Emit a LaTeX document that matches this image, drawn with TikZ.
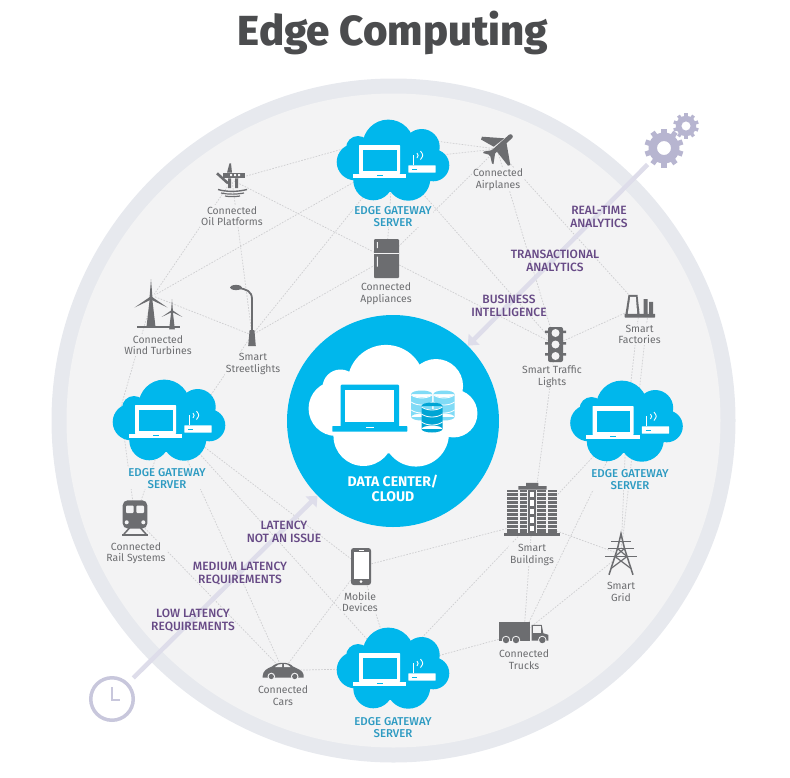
\documentclass[tikz,border=0pt]{standalone}
\usepackage{fontspec}
\setmainfont{Fira Sans}
\newfontfamily\trendfont{Fira Sans Medium}
\newfontfamily\titlefont{Fira Sans ExtraBold}
\usepackage{xcolor}
\usetikzlibrary{arrows.meta, positioning}

\definecolor{ringgray}{HTML}{E7E9EE}
\definecolor{innergray}{HTML}{F3F3F4}
\definecolor{skyblue}{HTML}{00B7EC}
\definecolor{iconsgray}{HTML}{6C6D70}
\definecolor{linkgray}{HTML}{CECED0}
\definecolor{gatewayblue}{HTML}{2E9BC2}
\definecolor{trendpurple}{HTML}{674A86}
\definecolor{arrowlilac}{HTML}{DEDDEA}
\definecolor{gearlilac}{HTML}{B7B5D0}
\definecolor{clocklilac}{HTML}{C8C7DC}

\newcommand{\cloudblob}{(-4.7,-14.7) circle (25.7) (-38,2) circle (18.3) (-35,-12) circle (12) (28.7,-13) circle (18) (40.3,5.3) circle (16) (-19.7,20.3) circle (20) (15.3,18.7) circle (22) (0,0) circle (32)}
\newcommand{\dbcyl}[3]{
  \fill[#3] (#1-10.5,#2) rectangle (#1+10.5,#2+23) (#1,#2) ellipse [x radius=10.5, y radius=3.5] (#1,#2+23) ellipse [x radius=10.5, y radius=3.5];
  \draw[white, line width=.8pt] (#1-10.5,#2+1) .. controls (#1-5,#2+5) and (#1+5,#2+5) .. (#1+10.5,#2+1);
  \draw[white, line width=.8pt] (#1-10.5,#2+8) .. controls (#1-5,#2+12) and (#1+5,#2+12) .. (#1+10.5,#2+8);
  \draw[white, line width=.8pt] (#1-10.5,#2+16) .. controls (#1-5,#2+20) and (#1+5,#2+20) .. (#1+10.5,#2+16);
}

\begin{document}
\begin{tikzpicture}[
    x=1pt, y=-1pt,
    hub/.style={circle, inner sep=0pt, minimum size=4pt},
    link/.style={linkgray, line width=.7pt, dash pattern=on 1.6pt off 1.4pt},
    flow/.style={-{Triangle[width=15pt, length=9pt]}, arrowlilac, line width=4.5pt},
    titletext/.style={font=\fontsize{42}{46}\titlefont, text=iconsgray!70!black},
    devlabel/.style={align=center, inner sep=1pt, fill=innergray, text=iconsgray, font=\fontsize{10.4}{11.5}\selectfont},
    gwlabel/.style={align=center, inner sep=1pt, fill=innergray, text=gatewayblue, font=\fontsize{11.4}{12}\trendfont},
    trend/.style={align=center, inner sep=0pt, text=trendpurple, font=\fontsize{12}{12.8}\trendfont},
    pics/gateway/.style={code={
        \fill[skyblue] \cloudblob;
        \fill[white, rounded corners=.6pt] (-34,-15) rectangle (7,14);
        \fill[skyblue] (-30,-10.3) rectangle (3.7,11.3);
        \fill[white] (-40.3,13.7) rectangle (13,18.3);
        \fill[skyblue] (-16.5,14.5) rectangle (-10.5,15.5);
        \fill[white, rounded corners=.6pt] (15.3,5.3) rectangle (42.7,12.7);
        \draw[skyblue, line width=.5pt] (19,9) -- (24,9);
        \draw[white, line width=1pt] (20,5.3) -- (20,-4.7);
        \draw[white, line width=.9pt] (24,-7) .. controls (25.5,-4.7) .. (24,-2);
        \draw[white, line width=.9pt] (27.5,-9) .. controls (30.5,-4.7) .. (27.5,-.5);
    }},
    pics/dccloud/.style={code={
        \fill[white, shift={(0,-15.5)}, scale=1.5] \cloudblob;
        \fill[skyblue, rounded corners=1pt] (-52.3,-36.3) rectangle (6,6);
        \fill[white] (-47.7,-31) rectangle (1.3,.7);
        \fill[skyblue, rounded corners=.6pt] (-60.7,5) rectangle (14.3,10.7);
        \fill[white] (-27,5.6) rectangle (-19,6.6);
        \dbcyl{28.7}{-27}{skyblue!50}
        \dbcyl{51}{-27}{skyblue!50}
        \dbcyl{39}{-15}{skyblue!90!black}
    }},
    pics/gear/.style={code={
        \foreach \a in {0,36,...,324} \fill[gearlilac, rotate=\a] (-2.6,13) rectangle (2.6,19.5);
        \fill[gearlilac, even odd rule] (0,0) circle (15.5) (0,0) circle (7);
    }},
    pics/plane/.style={code={
        \draw[iconsgray, line width=4.6pt, line cap=round] (13.5,-12.5) -- (-6,5);
        \fill[iconsgray] (7.3,-10.7) -- (-15,-12.3) -- (-16,-9.5) -- (-3.3,-2.3) -- cycle;
        \fill[iconsgray] (9.3,-7.3) -- (13.3,16) -- (11,16.7) -- (0,2.7) -- cycle;
        \fill[iconsgray] (-14,4) -- (-13,2.5) -- (-4,1) -- (-2,5) -- (-3.5,15) -- (-5,14.5) -- (-7,6) -- cycle;
    }},
    pics/oilrig/.style={code={
        \fill[iconsgray] (-9,-7.3) rectangle (12.7,-1.7);
        \fill[innergray] (-2,-6) rectangle (0,-3.8) (2,-6) rectangle (4,-3.8) (6,-6) rectangle (8,-3.8);
        \fill[iconsgray] (-4,-1.7) rectangle (-1,8) (3,-1.7) rectangle (6,8);
        \fill[iconsgray] (-5,-7.3) -- (-2.5,-16.7) -- (-1,-16.7) -- (0,-7.3) -- cycle;
        \draw[iconsgray, line width=2.6pt] (-15,-6.7) -- (-4,3.3);
        \draw[iconsgray, line width=1.4pt] (-14,9.5) .. controls (-5,12) and (5,12) .. (15,9.5);
        \draw[iconsgray, line width=1.2pt] (-11,13) .. controls (-4,14.5) and (4,14.5) .. (12,13);
        \draw[iconsgray, line width=1.2pt] (-7,16) .. controls (-3,16.8) and (3,16.8) .. (8,16);
    }},
    pics/turbine/.style={code={
        \foreach \a in {90,210,330} \fill[iconsgray, rotate=\a] (0,-1.5) -- (19,0) -- (0,1.5) -- cycle;
        \fill[iconsgray] (-1.2,0) -- (1.2,0) -- (4.5,29) -- (-4.5,29) -- cycle;
    }},
    pics/lamp/.style={code={
        \draw[iconsgray, line width=1.8pt] (0,-4) -- (0,-36) .. controls (0,-44) and (-6,-46) .. (-14,-47);
        \fill[iconsgray] (-16,-47.5) ellipse [x radius=6, y radius=2.6];
        \fill[iconsgray] (-3.8,11) -- (3.8,11) -- (2.4,-5) -- (-2.4,-5) -- cycle;
    }},
    pics/fridge/.style={code={
        \fill[iconsgray, rounded corners=1pt] (-12.5,-19.5) rectangle (12.5,19.5);
        \fill[innergray] (-12.5,-6) rectangle (12.5,-5.2);
        \fill[innergray] (-9.6,-16.5) rectangle (-8.6,-10.5) (-9.6,-2) rectangle (-8.6,8);
    }},
    pics/signal/.style={code={
        \fill[iconsgray, rounded corners=2pt] (-7.5,-17.5) rectangle (7.5,17.5);
        \fill[iconsgray] (-10.5,-14) rectangle (10.5,-11.5) (-10.5,-2.5) rectangle (10.5,0) (-10.5,8.5) rectangle (10.5,11);
        \foreach \y in {-11.5,0,11.5} \fill[innergray] (0,\y) circle (4);
    }},
    pics/factory/.style={code={
        \fill[iconsgray] (-11,-11.7) -- (-2,-11.7) -- (0,7.3) -- (-14,7.3) -- cycle;
        \fill[innergray] (-9.3,-9.7) -- (-3.7,-9.7) -- (-2.3,7.3) -- (-11.7,7.3) -- cycle;
        \fill[iconsgray] (4,-7.5) rectangle (8,7.3) (9.5,-4.7) rectangle (13.5,7.3);
        \fill[iconsgray, rounded corners=.5pt] (-15,7.3) rectangle (15.7,11);
    }},
    pics/building/.style={code={
        \fill[iconsgray] (-24.7,-20) rectangle (25.3,23);
        \fill[iconsgray] (-13.7,-23.3) rectangle (14.7,-20) (-6,-26.7) rectangle (6.3,-23.3);
        \fill[iconsgray] (-28,23) rectangle (28,26.7);
        \foreach \y in {-17,-13,...,21} \draw[innergray, line width=.9pt] (-24.7,\y) -- (25.3,\y);
        \foreach \x in {-12.7,-3.7,4,14.7} \fill[innergray] (\x-.9,-20) rectangle (\x+.9,23);
        \fill[iconsgray] (-3.7,-20) rectangle (4,23);
        \foreach \y in {-18,-9.5,-1,7.5,16} \fill[white] (-2,\y) rectangle (2,\y+5.5);
    }},
    pics/pylon/.style={code={
        \draw[iconsgray, line width=1.5pt] (-12,20.3) -- (-3.5,-6) -- (0,-20.7) -- (3.5,-6) -- (12,20.3);
        \draw[iconsgray, line width=1.3pt] (-10,-13) -- (10,-13) (-13,-6) -- (13,-6) (-16,2) -- (16,2);
        \draw[iconsgray, line width=1.2pt] (-3.5,-6) -- (6,2) (3.5,-6) -- (-6,2) (-6,2) -- (10,14) (6,2) -- (-10,14);
    }},
    pics/truck/.style={code={
        \fill[iconsgray] (-24.7,-11) rectangle (6,8);
        \fill[iconsgray] (7.7,-7.7) -- (17.7,-7.7) -- (19.3,.7) -- (24.3,2.3) -- (24.3,8) -- (7.7,8) -- cycle;
        \fill[innergray] (9.3,-6.7) rectangle (16.7,0);
        \foreach \x in {-18,-8,18.3} {
            \fill[innergray] (\x,7.5) circle (4.2);
            \fill[iconsgray] (\x,7.5) circle (3.2);
        }
    }},
    pics/phone/.style={code={
        \fill[iconsgray, rounded corners=2.6pt] (-10,-18.5) rectangle (10,18.5);
        \fill[white] (-7.5,-14.7) rectangle (7.5,12);
        \fill[white] (0,15.2) circle (1.5);
        \fill[white] (-2.5,-16.8) rectangle (2.5,-16);
    }},
    pics/car/.style={code={
        \fill[iconsgray] (-20.5,6) .. controls (-20,0) and (-16,-2) .. (-11,-4) .. controls (-6,-9) and (6,-9) .. (10,-4) .. controls (14,-2) and (20,0) .. (20.5,4) -- (20.5,7) -- (-20.5,7) -- cycle;
        \fill[innergray] (-8,-3.5) .. controls (-6,-6) and (-3,-6.5) .. (-1,-6.5) -- (-1,-3.5) -- cycle;
        \fill[innergray] (1,-6.5) .. controls (3,-6.5) and (6,-6) .. (7.5,-3.5) -- (1,-3.5) -- cycle;
        \foreach \x in {-11.7,11.7} {
            \fill[innergray] (\x,6) circle (3.8);
            \fill[iconsgray] (\x,6) circle (2.6);
        }
    }},
    pics/train/.style={code={
        \fill[iconsgray, rounded corners=5pt] (-12.3,-17.7) rectangle (12.3,10.5);
        \fill[innergray, rounded corners=1pt] (-9,-12.5) rectangle (-1.3,-5) (1.3,-12.5) rectangle (9,-5);
        \fill[innergray] (-8.3,4.3) circle (2) (8.3,4.3) circle (2);
        \fill[iconsgray] (-13.3,15.5) rectangle (13.3,17.5);
        \draw[iconsgray, line width=1.5pt] (-5.5,10) -- (-11,16) (5.5,10) -- (11,16);
    }}
]

\useasboundingbox (0,0) rectangle (790,777);

\node[circle, fill=ringgray, inner sep=0pt, minimum size=684pt] (ring) at (393.5,420.5) {};
\node[circle, fill=innergray, inner sep=0pt, minimum size=654pt] (inner) at (393.5,420.5) {};
\node[circle, fill=skyblue, inner sep=0pt, minimum size=212pt] (dc) at (393,421) {};

\node[titletext] (title) at (393,33) {Edge Computing};

% gateways and their extra line ends
\coordinate (gwT) at (393,160);
\coordinate (gwL) at (169,420);
\coordinate (gwR) at (626.5,421);
\coordinate (gwB) at (393,668);
\coordinate (gwTne) at (420,139);
\coordinate (gwTw) at (375,140);
\coordinate (gwLw) at (120,410);
\coordinate (gwLs) at (124,435);
\coordinate (gwLne) at (204,405);
\coordinate (factoryr) at (648,312);

% devices
\node[hub] (plane) at (497,149) {};
\node[hub] (oil) at (232,180) {};
\node[hub] (wind) at (153,296) {};
\node[hub] (lamp) at (252,335) {};
\node[hub] (fridge) at (386.5,258.5) {};
\node[hub] (signal) at (555.5,344.5) {};
\node[hub] (factory) at (639.5,306.5) {};
\node[hub] (building) at (532,522) {};
\node[hub] (pylon) at (621,554.5) {};
\node[hub] (truck) at (524,632.5) {};
\node[hub] (phone) at (361,566.5) {};
\node[hub] (car) at (283,670.5) {};
\node[hub] (train) at (135,518) {};

\draw[link] (gwTw) -- (oil);
\draw[link] (gwTne) -- (plane);
\draw[link] (gwT) -- (plane);
\draw[link] (gwT) -- (wind);
\draw[link] (gwT) -- (lamp);
\draw[link] (gwT) -- (fridge);
\draw[link] (gwT) -- (signal);
\draw[link] (plane) -- (fridge);
\draw[link] (plane) -- (signal);
\draw[link] (plane) -- (factory);
\draw[link] (oil) -- (fridge);
\draw[link] (oil) -- (wind);
\draw[link] (oil) -- (lamp);
\draw[link] (wind) -- (lamp);
\draw[link] (wind) -- (gwLw);
\draw[link] (lamp) -- (gwLne);
\draw[link] (lamp) -- (fridge);
\draw[link] (fridge) -- (signal);
\draw[link] (signal) -- (factory);
\draw[link] (signal) -- (building);
\draw[link] (factory) -- (gwR);
\draw[link] (factoryr) -- (pylon);
\draw[link] (gwR) -- (pylon);
\draw[link] (gwR) -- (building);
\draw[link] (gwR) -- (truck);
\draw[link] (building) -- (pylon);
\draw[link] (building) -- (truck);
\draw[link] (building) -- (phone);
\draw[link] (building) -- (gwB);
\draw[link] (pylon) -- (truck);
\draw[link] (truck) -- (gwB);
\draw[link] (phone) -- (gwB);
\draw[link] (phone) -- (car);
\draw[link] (car) -- (gwB);
\draw[link] (gwL) -- (phone);
\draw[link] (gwL) -- (gwB);
\draw[link] (gwL) -- (car);
\draw[link] (gwL) -- (train);
\draw[link] (gwLs) -- (train);
\draw[link] (train) -- (car);

% time and analytics arrows
\node[hub, minimum size=46pt] (gear) at (664,148) {};
\node[circle, draw=clocklilac, line width=3.5pt, inner sep=0pt, minimum size=42.5pt] (clock) at (112,699) {};
\draw[flow] (gear) -- (dc);
\draw[flow, shorten <=7pt] (clock) -- (dc);
\draw[clocklilac, line width=2pt] (112,687) -- (112,700) -- (120,700);
\pic at (gear) {gear};
\pic[scale=.66] at (686,126) {gear};

\pic at (gwT) {gateway};
\pic at (gwL) {gateway};
\pic at (gwR) {gateway};
\pic at (gwB) {gateway};
\pic at (dc) {dccloud};

\pic at (plane) {plane};
\pic at (oil) {oilrig};
\pic at (151,298) {turbine};
\pic[scale=.63] at (172,311) {turbine};
\fill[iconsgray] (137,326) rectangle (180,328);
\pic at (lamp) {lamp};
\pic at (fridge) {fridge};
\pic at (signal) {signal};
\pic at (factory) {factory};
\pic at (532,509.5) {building};
\pic at (pylon) {pylon};
\pic at (truck) {truck};
\pic at (phone) {phone};
\pic at (car) {car};
\pic at (train) {train};

\node[devlabel, below=16.5pt of plane, xshift=1pt] (planetext) {Connected\\Airplanes};
\node[devlabel, below=23pt of oil] (oiltext) {Connected\\Oil Platforms};
\node[devlabel, below=36pt of wind, xshift=5pt] (windtext) {Connected\\Wind Turbines};
\node[devlabel, below=15pt of lamp, xshift=1pt] (lamptext) {Smart\\Streetlights};
\node[devlabel, below=21pt of fridge, xshift=-.5pt] (fridgetext) {Connected\\Appliances};
\node[devlabel, below=18pt of signal, xshift=-3.5pt] (signaltext) {Smart Traffic\\Lights};
\node[devlabel, below=15pt of factory] (factorytext) {Smart\\Factories};
\node[devlabel, below=19pt of building] (buildingtext) {Smart\\Buildings};
\node[devlabel, below=24.5pt of pylon] (pylontext) {Smart\\Grid};
\node[devlabel, below=14pt of truck] (trucktext) {Connected\\Trucks};
\node[devlabel, below=22pt of phone, xshift=-1pt] (phonetext) {Mobile\\Devices};
\node[devlabel, below=12pt of car] (cartext) {Connected\\Cars};
\node[devlabel, below=21pt of train, xshift=1pt] (traintext) {Connected\\Rail Systems};

\node[gwlabel, below=45pt of gwT] (gwTtext) {EDGE GATEWAY\\SERVER};
\node[gwlabel, below=47pt of gwL, xshift=-2pt] (gwLtext) {EDGE GATEWAY\\SERVER};
\node[gwlabel, below=47pt of gwR, xshift=3.5pt] (gwRtext) {EDGE GATEWAY\\SERVER};
\node[gwlabel, below=48pt of gwB] (gwBtext) {EDGE GATEWAY\\SERVER};

\node[align=center, inner sep=0pt, text=white, font=\fontsize{14}{15}\selectfont\bfseries] (dctext) at (393,488) {DATA CENTER/\\CLOUD};

\node[trend] (realtime) at (599,217) {REAL-TIME\\ANALYTICS};
\node[trend] (transact) at (555,260.5) {TRANSACTIONAL\\ANALYTICS};
\node[trend] (business) at (509,305.5) {BUSINESS\\INTELLIGENCE};
\node[trend] (notissue) at (284,531.5) {LATENCY\\NOT AN ISSUE};
\node[trend] (medium) at (240,573.5) {MEDIUM LATENCY\\REQUIREMENTS};
\node[trend] (low) at (193,620.5) {LOW LATENCY\\REQUIREMENTS};

\end{tikzpicture}
\end{document}
